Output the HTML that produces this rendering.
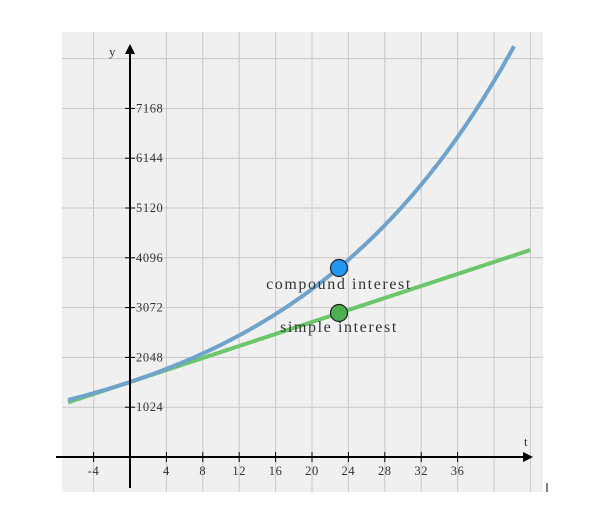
<!DOCTYPE html>
<html><head><style>body{margin:0;background:#fff}svg{display:block}text{font-family:"Liberation Serif",serif;fill:#333}</style></head>
<body>
<svg id="s" width="600" height="524" xmlns="http://www.w3.org/2000/svg">
<rect x="62" y="32" width="481" height="460" fill="#f0f0f0"/>
<g id="grid" stroke="#c8c8c8" stroke-width="1"></g>
<g id="lab" font-size="12.5" letter-spacing="0.6"></g>
<path id="simple" fill="none" stroke="#6cc76c" stroke-width="4"/>
<path id="comp" fill="none" stroke="#6fa3cc" stroke-width="4"/>
<line x1="130" y1="488" x2="130" y2="50" stroke="#000" stroke-width="2"/>
<polygon points="130,44 125,54 135,54" fill="#000"/>
<line x1="56" y1="457" x2="526" y2="457" stroke="#000" stroke-width="2"/>
<polygon points="533,457 523,452 523,462" fill="#000"/>
<text x="109" y="56" font-size="13">y</text>
<text x="524" y="446" font-size="13">t</text>
<circle cx="339" cy="268" r="8.5" fill="#2196f3" stroke="#222" stroke-width="1.2"/>
<circle cx="339" cy="313" r="8.5" fill="#4caf50" stroke="#222" stroke-width="1.2"/>
<text x="339" y="289" font-size="16" letter-spacing="1.6" text-anchor="middle">compound interest</text>
<text x="339" y="332" font-size="16" letter-spacing="1.6" text-anchor="middle">simple interest</text>
<line x1="547" y1="483" x2="547" y2="492" stroke="#000" stroke-width="1"/>
</svg>
<script>
var ns="http://www.w3.org/2000/svg",g=document.getElementById('grid'),lab=document.getElementById('lab');
function X(t){return 130+t*9.1}
function mk(p,tag,a,txt){var e=document.createElementNS(ns,tag);for(var k in a)e.setAttribute(k,a[k]);if(txt)e.textContent=txt;p.appendChild(e);}
for(var t=-4;t<=44;t+=4){if(t==0)continue;mk(g,'line',{x1:X(t),x2:X(t),y1:32,y2:492});
 if(t<=36){mk(lab,'line',{x1:X(t),x2:X(t),y1:452,y2:462,stroke:'#000','stroke-width':1});mk(lab,'text',{x:X(t),y:475,'text-anchor':'middle'},String(t));}}
for(var i=1;i<=8;i++){var y=457-i*49.8;mk(g,'line',{x1:62,x2:543,y1:y,y2:y});
 if(i<=7){mk(lab,'line',{x1:125,x2:135,y1:y,y2:y,stroke:'#000','stroke-width':1});mk(lab,'text',{x:136,y:y+4},String(i*1024));}}
var d='';for(var t=-6.8;t<=44.2;t+=0.2){d+=(d?'L':'M')+X(t).toFixed(1)+','+(382-3*t).toFixed(1);}
document.getElementById('simple').setAttribute('d',d);
d='';for(var t=-6.8;t<=42.4;t+=0.2){d+=(d?'L':'M')+X(t).toFixed(1)+','+(457-75*Math.exp(0.0403*t)).toFixed(1);}
document.getElementById('comp').setAttribute('d',d);
</script>
</body></html>
